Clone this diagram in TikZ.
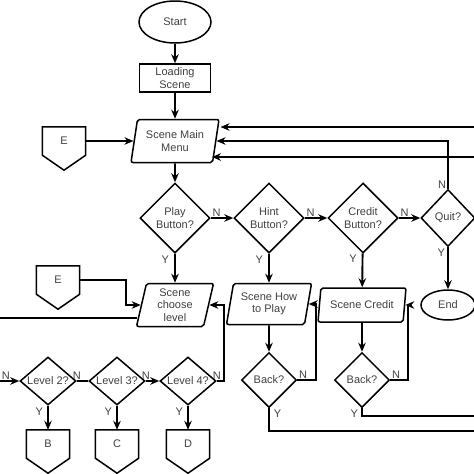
\documentclass[tikz,border=0pt]{standalone}
\usepackage{fontspec}
\setmainfont{Liberation Sans}
\usetikzlibrary{shapes.geometric,arrows.meta}

\begin{document}
\begin{tikzpicture}[>={Stealth[length=9pt,width=7.5pt]},x=1pt,y=-1pt,
    font=\fontsize{11}{12.5}\selectfont,
    every node/.style={text=black!75},
    box/.style={draw=black,line width=1.5pt,align=center,inner sep=1pt},
    term/.style={box,ellipse},
    proc/.style={box,rectangle},
    io/.style={box,trapezium,trapezium left angle=74,trapezium right angle=106,
      trapezium stretches body,rounded corners=2pt},
    test/.style={box,diamond,inner sep=0pt},
    offpage/.style={align=center,minimum width=43pt,minimum height=28pt,inner sep=0pt},
    flow/.style={line width=1.9pt},
    lbl/.style={inner sep=1pt}]
        \useasboundingbox (0,0) rectangle (474,474);
        % Main column
        \node[term,minimum width=72pt,minimum height=42pt] (start) at (175,22) {Start};
        \node[proc,minimum width=71pt,minimum height=28pt] (load) at (175,78) {Loading\\Scene};
        \node[io,minimum width=88pt,minimum height=43pt] (menu) at (175,141) {Scene Main\\Menu};
        \node[offpage] (e1) at (64,141) {E};
        % Buttons
        \node[test,minimum width=70pt,minimum height=70pt] (play) at (175,218) {Play\\Button?};
        \node[test,minimum width=70pt,minimum height=70pt] (hint) at (269,218) {Hint\\Button?};
        \node[test,minimum width=70pt,minimum height=70pt] (credit) at (363,218) {Credit\\Button?};
        \node[test,minimum width=54pt,minimum height=57pt] (quit) at (448,218) {Quit?};
        \node[term,minimum width=54pt,minimum height=30pt] (end) at (448,305) {End};
        % Scenes
        \node[io,minimum width=77pt,minimum height=43pt] (choose) at (175,305) {Scene\\choose\\level};
        \node[offpage] (e2) at (58,280) {E};
        \node[io,minimum width=85pt,minimum height=41pt] (howto) at (269,304) {Scene How\\to Play};
        \node[io,minimum width=88pt,minimum height=34pt] (scredit) at (362,305) {Scene Credit};
        \node[test,minimum size=55pt] (back1) at (269,380) {Back?};
        \node[test,minimum size=55pt] (back2) at (362,380) {Back?};
        % Levels
        \node[test,aspect=1.17,minimum width=56pt,minimum height=48pt] (lv2) at (48,381) {Level 2?};
        \node[test,aspect=1.17,minimum width=56pt,minimum height=48pt] (lv3) at (117,381) {Level 3?};
        \node[test,aspect=1.17,minimum width=56pt,minimum height=48pt] (lv4) at (188,381) {Level 4?};
        \node[offpage] (b) at (48,444) {B};
        \node[offpage] (c) at (117,444) {C};
        \node[offpage] (d) at (188,444) {D};
        \foreach \n in {e1,e2,b,c,d}
        \draw[line width=1.5pt] (\n.north west) -- (\n.north east) -- (\n.south east)
        -- ([yshift=-15pt]\n.south) -- (\n.south west) -- cycle;
        % Loose ends
        \coordinate (r1) at (474,127);
        \coordinate (r2) at (474,157);
        \coordinate (r3) at (474,416);
        \coordinate (r4) at (474,431);
        \coordinate (l1) at (0,318);
        \coordinate (l2) at (0,381);
        % Flow
        \draw[flow,->] (start) -- (load);
        \draw[flow,->] (load) -- (menu);
        \draw[flow,->] (e1) -- (menu);
        \draw[flow,->] (menu) -- (play);
        \draw[flow,->] (play) -- (hint) node[at start,above right,lbl] {N};
        \draw[flow,->] (hint) -- (credit) node[at start,above right,lbl] {N};
        \draw[flow,->] (credit) -- (quit) node[at start,above right,lbl] {N};
        \draw[flow,->] (play) -- (choose) node[at start,below left,lbl,xshift=-4pt] {Y};
        \draw[flow,->] (hint) -- (howto) node[at start,below left,lbl,xshift=-4pt] {Y};
        \draw[flow,->] (credit) -- (scredit) node[at start,below left,lbl,xshift=-4pt] {Y};
        \draw[flow,->] (quit) -- (end) node[at start,below left,lbl,xshift=-1pt] {Y};
        \draw[flow,->] (quit.north) node[left,lbl,yshift=4pt] {N} |- (menu.east);
        \draw[flow,->] (r1) -- ([xshift=4pt]menu.east |- r1);
        \draw[flow,->] (r2) -- ([xshift=-4.6pt]menu.east |- r2);
        % Back loops
        \draw[flow,->] (howto) -- (back1);
        \draw[flow,->] (scredit) -- (back2);
        \draw[flow,->] (back1.east) node[above right,lbl] {N} -- ++(19,0) |- (howto.east);
        \draw[flow,->] (back2.east) node[above right,lbl] {N} -- ++(18,0) |- (scredit.east);
        \draw[flow] (back1.south) node[below right,lbl,xshift=3pt] {Y} |- (r4);
        \draw[flow] (back2.south) node[below left,lbl,xshift=-2pt] {Y} |- (r3);
        % Choose level
        \draw[flow,->] (e2.east) -- ++(46,0) |- (choose.west);
        \draw[flow] ([xshift=-3.7pt]choose.west |- l1) -- (l1);
        \draw[flow,->] (l2) -- (lv2) node[at start,above right,lbl] {N};
        \draw[flow] (lv2) -- (lv3) node[at start,above,lbl] {N};
        \draw[flow,->] (lv3) -- (lv4) node[at start,above,lbl] {N};
        \draw[flow,->] (lv4.east) node[above,lbl] {N} -- ++(7,0) |- (choose.east);
        \draw[flow,->] (lv2) -- (b) node[at start,below left,lbl,xshift=-3pt] {Y};
        \draw[flow,->] (lv3) -- (c) node[at start,below left,lbl,xshift=-3pt] {Y};
        \draw[flow,->] (lv4) -- (d) node[at start,below left,lbl,xshift=-3pt] {Y};
\end{tikzpicture}
\end{document}
